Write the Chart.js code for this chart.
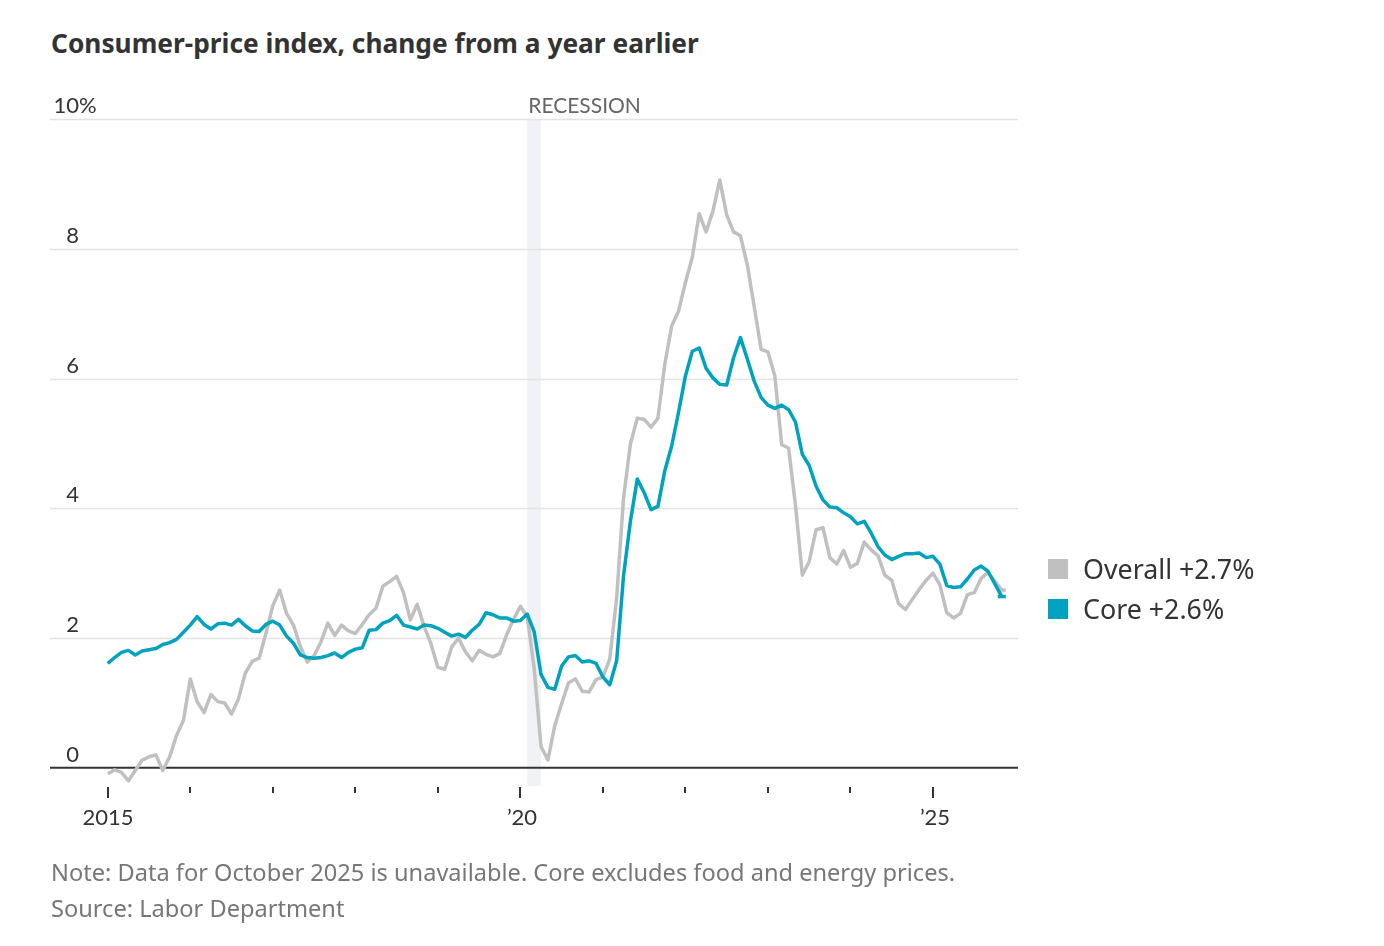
<!DOCTYPE html>
<html>
<head>
<meta charset="utf-8">
<script src="https://cdn.jsdelivr.net/npm/chart.js@4.4.1/dist/chart.umd.min.js"></script>
<style>
  html, body { margin: 0; padding: 0; background: #fff; }
  body { width: 1384px; height: 946px; position: relative; overflow: hidden; font-family: "Noto Sans", Lato, sans-serif; }
  #chart { position: absolute; left: 0; top: 0; }
  .t { position: absolute; white-space: nowrap; margin: 0; }
  #title { left: 51px; top: 30px; font-weight: 700; font-size: 26.3px; line-height: 26px; color: #333; }
  #note { left: 51px; top: 861px; font-size: 23.6px; line-height: 22px; color: #777; }
  #source { left: 51px; top: 897px; font-size: 23.6px; line-height: 22px; color: #777; }
  .leg { position: absolute; left: 1048px; font-size: 26.8px; line-height: 26px; color: #333; white-space: nowrap; }
  .leg i { position: absolute; left: 0; top: 3px; width: 20px; height: 20px; }
  .leg span { position: absolute; left: 35px; top: 0; }
  #legOverall { top: 556px; }
  #legCore { top: 596px; }
</style>
</head>
<body>
<div class="t" id="title">Consumer-price index, change from a year earlier</div>
<canvas id="chart" width="1384" height="946"></canvas>
<div class="leg" id="legOverall"><i style="background:#c0c0c0"></i><span>Overall +2.7%</span></div>
<div class="leg" id="legCore"><i style="background:#00a3be"></i><span>Core +2.6%</span></div>
<div class="t" id="note">Note: Data for October 2025 is unavailable. Core excludes food and energy prices.</div>
<div class="t" id="source">Source: Labor Department</div>
<script>
// ---- data: monthly, Jan 2015 .. Nov 2025 (Oct 2025 unavailable) ----
const startYear = 2015;
const overall = [
  -0.09, -0.03, -0.07, -0.20, -0.04, 0.12, 0.17, 0.20, -0.04, 0.17, 0.50, 0.73,
  1.37, 1.02, 0.85, 1.13, 1.02, 1.00, 0.83, 1.06, 1.46, 1.64, 1.69, 2.07,
  2.50, 2.74, 2.38, 2.20, 1.87, 1.63, 1.73, 1.94, 2.23, 2.04, 2.20, 2.11,
  2.07, 2.21, 2.36, 2.46, 2.80, 2.87, 2.95, 2.70, 2.28, 2.52, 2.18, 1.91,
  1.55, 1.52, 1.86, 2.00, 1.79, 1.65, 1.81, 1.75, 1.71, 1.76, 2.05, 2.29,
  2.49, 2.33, 1.54, 0.33, 0.12, 0.65, 0.99, 1.31, 1.37, 1.18, 1.17, 1.36,
  1.40, 1.68, 2.62, 4.16, 4.99, 5.39, 5.37, 5.25, 5.39, 6.22, 6.81, 7.04,
  7.48, 7.87, 8.54, 8.26, 8.58, 9.06, 8.52, 8.26, 8.20, 7.75, 7.11, 6.45,
  6.41, 6.04, 4.98, 4.93, 4.05, 2.97, 3.18, 3.67, 3.70, 3.24, 3.14, 3.35,
  3.09, 3.15, 3.48, 3.36, 3.27, 2.97, 2.89, 2.53, 2.44, 2.60, 2.75, 2.89,
  3.00, 2.82, 2.39, 2.31, 2.38, 2.67, 2.70, 2.92, 3.01, null, 2.74
];
const core = [
  1.61, 1.70, 1.78, 1.81, 1.74, 1.80, 1.82, 1.84, 1.90, 1.93, 1.98, 2.09,
  2.20, 2.33, 2.21, 2.14, 2.22, 2.23, 2.20, 2.29, 2.19, 2.11, 2.10, 2.21,
  2.26, 2.20, 2.03, 1.92, 1.74, 1.70, 1.69, 1.70, 1.73, 1.77, 1.70, 1.78,
  1.83, 1.85, 2.12, 2.13, 2.23, 2.27, 2.35, 2.20, 2.17, 2.14, 2.20, 2.19,
  2.15, 2.09, 2.03, 2.06, 2.01, 2.12, 2.21, 2.39, 2.36, 2.31, 2.31, 2.26,
  2.27, 2.37, 2.10, 1.44, 1.24, 1.21, 1.57, 1.71, 1.73, 1.63, 1.65, 1.61,
  1.40, 1.28, 1.65, 2.96, 3.80, 4.45, 4.24, 3.98, 4.03, 4.58, 4.96, 5.48,
  6.04, 6.42, 6.47, 6.16, 6.01, 5.91, 5.90, 6.32, 6.63, 6.30, 5.96, 5.71,
  5.59, 5.54, 5.59, 5.52, 5.33, 4.83, 4.66, 4.34, 4.13, 4.02, 4.01, 3.93,
  3.87, 3.76, 3.80, 3.62, 3.41, 3.28, 3.21, 3.26, 3.30, 3.30, 3.31, 3.24,
  3.26, 3.14, 2.81, 2.78, 2.79, 2.91, 3.05, 3.11, 3.03, null, 2.64
];
const yTickValues = [0, 2, 4, 6, 8, 10];
const xTickYears = [2015, 2016, 2017, 2018, 2019, 2020, 2021, 2022, 2023, 2024, 2025];
const xTickLabels = { 2015: '2015', 2020: '\u201920', 2025: '\u201925' };
const recessionStart = 2020 + 1 / 12;   // Feb 2020
const recessionEnd = 2020 + 3 / 12;     // Apr 2020
const recessionLabel = 'RECESSION';

const toPoints = arr => arr.map((v, i) => ({ x: startYear + i / 12, y: v }));

const GRAY = '#c0c0c0';
const TEAL = '#00a3be';
const INK = '#333333';
const FONT = 'Lato, "Noto Sans", sans-serif';

const gapDash = ctx => (ctx.p1DataIndex - ctx.p0DataIndex > 1) ? [3, 4] : undefined;

const decorPlugin = {
  id: 'decor',
  beforeDatasetsDraw(chart) {
    const { ctx, chartArea: a, scales: { x, y } } = chart;
    ctx.save();
    // recession band
    const rx0 = x.getPixelForValue(recessionStart);
    const rx1 = x.getPixelForValue(recessionEnd);
    ctx.fillStyle = '#f1f2f5';
    ctx.fillRect(rx0, a.top, rx1 - rx0, a.bottom - a.top);
    // gridlines
    yTickValues.forEach(v => {
      if (v === 0) return;
      const py = Math.round(y.getPixelForValue(v)) + 0.5;
      ctx.strokeStyle = '#e3e3e3';
      ctx.lineWidth = 1.5;
      ctx.beginPath(); ctx.moveTo(a.left, py); ctx.lineTo(a.right, py); ctx.stroke();
    });
    // zero line
    const y0 = y.getPixelForValue(0);
    ctx.strokeStyle = INK;
    ctx.lineWidth = 2;
    ctx.beginPath(); ctx.moveTo(a.left, y0); ctx.lineTo(a.right, y0); ctx.stroke();
    // y labels
    ctx.fillStyle = INK;
    ctx.font = '22px ' + FONT;
    ctx.textBaseline = 'alphabetic';
    yTickValues.forEach(v => {
      const py = y.getPixelForValue(v) - 6;
      ctx.textAlign = 'right';
      ctx.fillText(String(v), 79, py);
      if (v === 10) { ctx.textAlign = 'left'; ctx.fillText('%', 79, py); }
    });
    // recession label
    ctx.fillStyle = '#666';
    ctx.font = '21px ' + FONT;
    ctx.textAlign = 'left';
    ctx.fillText(recessionLabel, rx0 + 1, y.getPixelForValue(10) - 6);
    // x ticks + labels
    ctx.strokeStyle = INK;
    ctx.lineWidth = 2;
    ctx.fillStyle = INK;
    ctx.font = '22px ' + FONT;
    ctx.textAlign = 'center';
    xTickYears.forEach(yr => {
      const px = Math.round(x.getPixelForValue(yr));
      const major = !!xTickLabels[yr];
      ctx.beginPath();
      ctx.moveTo(px, a.bottom + 1);
      ctx.lineTo(px, a.bottom + (major ? 12 : 7));
      ctx.stroke();
      if (major) ctx.fillText(xTickLabels[yr], px + (yr === 2015 ? 0 : 2), a.bottom + 39);
    });
    ctx.restore();
  }
};

const lastIdx = overall.length - 1;

new Chart(document.getElementById('chart'), {
  type: 'line',
  data: {
    datasets: [
      {
        label: 'Core',
        data: toPoints(core),
        borderColor: TEAL,
        borderWidth: 3.5,
        spanGaps: true,
        tension: 0,
        borderJoinStyle: 'round',
        pointStyle: 'line',
        pointRadius: c => c.dataIndex === lastIdx ? 4 : 0,
        pointBorderColor: TEAL,
        pointBorderWidth: 3.5,
        pointHoverRadius: 0,
        segment: { borderDash: gapDash },
        order: 0
      },
      {
        label: 'Overall',
        data: toPoints(overall),
        borderColor: GRAY,
        borderWidth: 3.5,
        spanGaps: true,
        tension: 0,
        borderJoinStyle: 'round',
        pointStyle: 'line',
        pointRadius: c => c.dataIndex === lastIdx ? 4 : 0,
        pointBorderColor: GRAY,
        pointBorderWidth: 3.5,
        pointHoverRadius: 0,
        segment: { borderDash: gapDash },
        order: 1
      }
    ]
  },
  options: {
    responsive: false,
    animation: false,
    devicePixelRatio: 1,
    layout: { padding: { left: 50, right: 366, top: 119, bottom: 160 } },
    scales: {
      x: { type: 'linear', min: 2014.3, max: 2026.03, display: false },
      y: { type: 'linear', min: -0.28, max: 10, display: false }
    },
    plugins: { legend: { display: false }, tooltip: { enabled: false } },
    events: []
  },
  plugins: [decorPlugin]
});
</script>
</body>
</html>
